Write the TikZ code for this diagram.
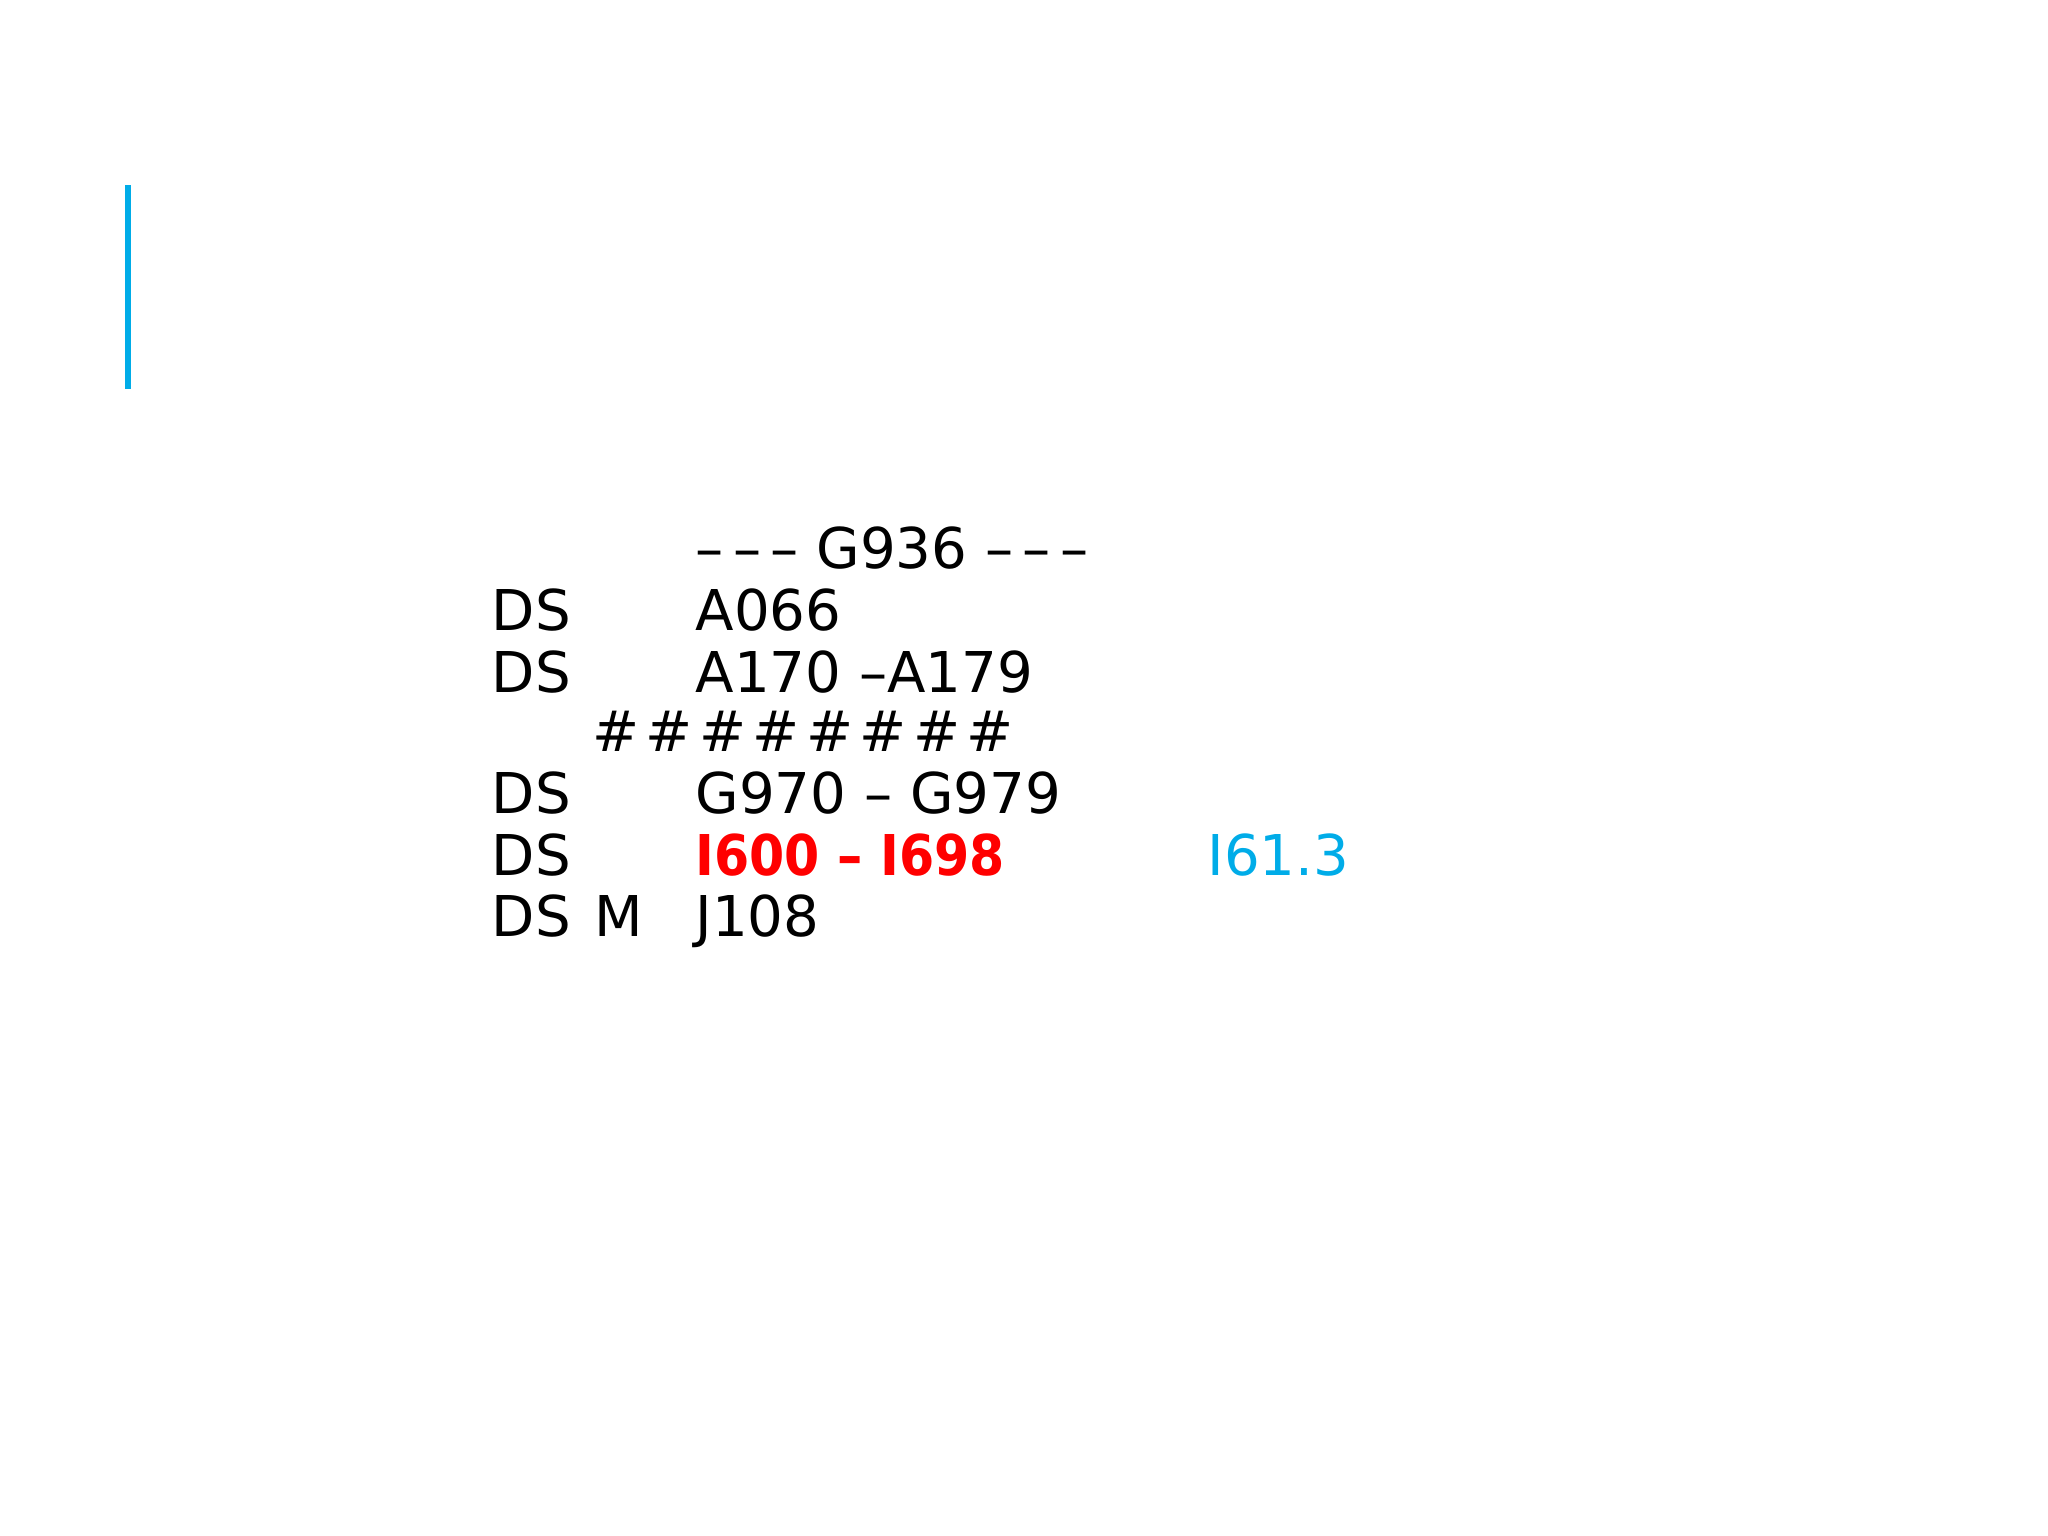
\documentclass[tikz,border=0pt]{standalone}
\usepackage{fontspec}
\setmainfont{DejaVu Sans}
\newfontfamily\condbold{DejaVu Sans Condensed Bold}
\definecolor{accent}{RGB}{0,172,232}
\newcommand{\hs}{\makebox[0.535cm][l]{\#}}
\tikzset{txt/.style={anchor=base west,inner sep=0pt,font=\fontsize{16}{19}\selectfont}}
\begin{document}
\begin{tikzpicture}[x=0.01306cm,y=-0.01306cm]
\useasboundingbox (0,0) rectangle (1568,1176);
\draw[accent,line width=1.6pt] (98,142) -- (98,298);
\node[txt] (t0) at (532,435) {\textendash\,\textendash\,\textendash{} G936 \textendash\,\textendash\,\textendash};
\node[txt] (d1) at (376,483) {DS};
\node[txt] (c1) at (532,483) {A066};
\node[txt] (d2) at (376,530) {DS};
\node[txt] (c2) at (532,530) {A170 –A179};
\node[txt] (h) at (453,575) {\hs\hs\hs\hs\hs\hs\hs\#};
\node[txt] (d3) at (376,623) {DS};
\node[txt] (c3) at (532,623) {G970 – G979};
\node[txt] (d4) at (376,670) {DS};
\node[txt,text=red,font=\fontsize{16}{19}\selectfont\condbold] (c4) at (532,670) {I600 – I698};
\node[txt,text=accent] (e4) at (924,670) {I61.3};
\node[txt] (d5) at (376,717) {DS};
\node[txt] (m5) at (455,717) {M};
\node[txt] (c5) at (532,717) {J108};
\end{tikzpicture}
\end{document}
